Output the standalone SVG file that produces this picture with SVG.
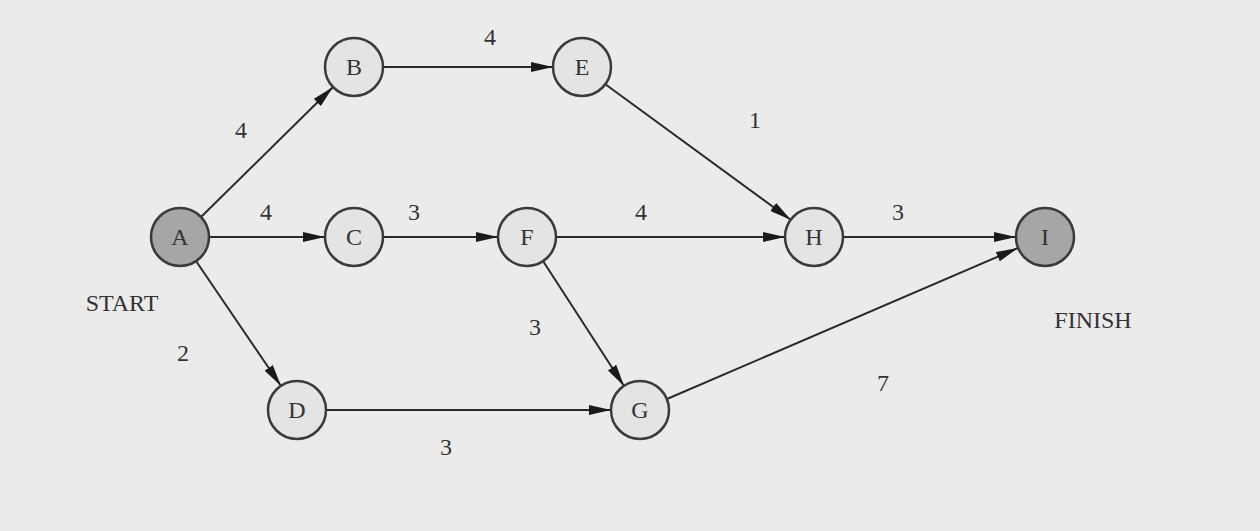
<svg xmlns="http://www.w3.org/2000/svg" width="1260" height="531" viewBox="0 0 1260 531">
<style>
.n{stroke:#3a3a3a;stroke-width:2.5}
.l{fill:#e4e4e4}.d{fill:#a6a6a6}
text{font-family:"Liberation Serif",serif;font-size:24px;fill:#333;text-anchor:middle}
.c line{stroke:#2a2a2a;stroke-width:2;marker-end:url(#ah)}
</style>
<defs><marker id="ah" viewBox="0 0 22 10" refX="22" refY="5" markerWidth="22" markerHeight="10" markerUnits="userSpaceOnUse" orient="auto"><path d="M0,0L22,5L0,10z" fill="#1a1a1a"/></marker></defs>
<rect width="1260" height="531" fill="#ebebeb"/>
<g class="c">
<line x1="201" y1="217" x2="333" y2="87"/>
<line x1="209" y1="237" x2="325" y2="237"/>
<line x1="196" y1="261" x2="281" y2="386"/>
<line x1="383" y1="67" x2="553" y2="67"/>
<line x1="605" y1="84" x2="791" y2="220"/>
<line x1="383" y1="237" x2="498" y2="237"/>
<line x1="556" y1="237" x2="785" y2="237"/>
<line x1="543" y1="261" x2="624" y2="386"/>
<line x1="843" y1="237" x2="1016" y2="237"/>
<line x1="326" y1="410" x2="611" y2="410"/>
<line x1="667" y1="399" x2="1018" y2="248"/>
</g>
<g id="A"><circle class="n d" cx="180" cy="237" r="29"/><text x="180" y="245">A</text></g>
<g id="B"><circle class="n l" cx="354" cy="67" r="29"/><text x="354" y="75">B</text></g>
<g id="C"><circle class="n l" cx="354" cy="237" r="29"/><text x="354" y="245">C</text></g>
<g id="D"><circle class="n l" cx="297" cy="410" r="29"/><text x="297" y="418">D</text></g>
<g id="E"><circle class="n l" cx="582" cy="67" r="29"/><text x="582" y="75">E</text></g>
<g id="F"><circle class="n l" cx="527" cy="237" r="29"/><text x="527" y="245">F</text></g>
<g id="G"><circle class="n l" cx="640" cy="410" r="29"/><text x="640" y="418">G</text></g>
<g id="H"><circle class="n l" cx="814" cy="237" r="29"/><text x="814" y="245">H</text></g>
<g id="I"><circle class="n d" cx="1045" cy="237" r="29"/><text x="1045" y="245">I</text></g>
<g id="labels">
<text x="241" y="138">4</text><text x="490" y="45">4</text><text x="755" y="128">1</text>
<text x="266" y="220">4</text><text x="414" y="220">3</text><text x="641" y="220">4</text><text x="898" y="220">3</text>
<text x="535" y="335">3</text><text x="183" y="361">2</text><text x="883" y="391">7</text><text x="446" y="455">3</text>
<text x="122" y="311">START</text><text x="1093" y="328">FINISH</text>
</g>
</svg>
